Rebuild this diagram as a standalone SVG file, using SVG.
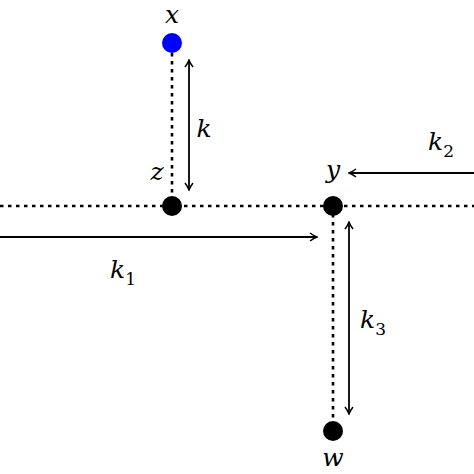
<svg xmlns="http://www.w3.org/2000/svg" width="474" height="474" viewBox="0 0 474 474">
<style>
.dot{stroke:#000;stroke-width:2.6;stroke-dasharray:3.5 4.5;fill:none}
.arr{stroke:#000;stroke-width:1.8;fill:none}
text{font-family:"DejaVu Serif","Liberation Serif",serif;font-style:italic;font-size:25px;fill:#000;text-anchor:middle}
.sub{font-style:normal;font-size:17px}
</style>
<defs>
<marker id="ah" viewBox="0 0 10 10" refX="9" refY="5" markerWidth="10" markerHeight="10" markerUnits="userSpaceOnUse" orient="auto-start-reverse">
<path d="M2,1 Q6,4 9,5 Q6,6 2,9" stroke="#000" stroke-width="1.5" fill="none"/>
</marker>
</defs>
<rect width="474" height="474" fill="#fff"/>
<g id="connectors">
<line class="dot" x1="0" y1="206" x2="474" y2="206"/>
<line class="dot" x1="172" y1="53" x2="172" y2="206"/>
<line class="dot" x1="333" y1="206" x2="333" y2="431"/>
<line class="arr" x1="189" y1="60" x2="189" y2="190" marker-start="url(#ah)" marker-end="url(#ah)"/>
<line class="arr" x1="474" y1="173" x2="349" y2="173" marker-end="url(#ah)"/>
<line class="arr" x1="0" y1="237" x2="317" y2="237" marker-end="url(#ah)"/>
<line class="arr" x1="349" y1="222" x2="349" y2="414" marker-start="url(#ah)" marker-end="url(#ah)"/>
<text x="204" y="137" font-family="DejaVu Serif">k</text>
<text x="441" y="150" font-family="DejaVu Serif">k<tspan class="sub" dy="7">2</tspan></text>
<text x="123" y="278" font-family="DejaVu Serif">k<tspan class="sub" dy="7">1</tspan></text>
<text x="373" y="328" font-family="DejaVu Serif">k<tspan class="sub" dy="7">3</tspan></text>
</g>
<g id="node-x">
<circle cx="172" cy="43" r="10" fill="#0000ff"/>
<text x="172" y="23" font-family="DejaVu Serif">x</text>
</g>
<g id="node-z">
<circle cx="172" cy="206" r="10" fill="#000"/>
<text x="157" y="180" font-family="DejaVu Serif">z</text>
</g>
<g id="node-y">
<circle cx="333" cy="206" r="10" fill="#000"/>
<text x="333" y="178" font-family="DejaVu Serif">y</text>
</g>
<g id="node-w">
<circle cx="333" cy="431" r="10" fill="#000"/>
<text x="333" y="466" font-family="DejaVu Serif">w</text>
</g>
</svg>
